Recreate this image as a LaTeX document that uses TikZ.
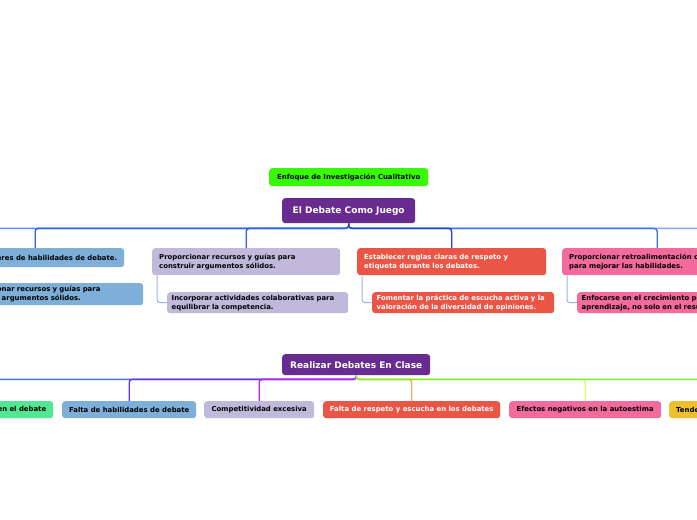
\documentclass[tikz,border=0pt]{standalone}
\usepackage{fontspec}
\setmainfont{DejaVu Sans}
\newcommand\bxf{\fontsize{6.9}{9}\selectfont\bfseries}
\newcommand\ttlf{\fontsize{9}{11}\selectfont\bfseries}
\newcommand\twol[2]{\mbox{#1}\\\mbox{#2}}
\definecolor{lime}{RGB}{55,250,5}
\definecolor{purp}{RGB}{104,44,145}
\definecolor{bluebox}{RGB}{125,175,216}
\definecolor{lav}{RGB}{192,185,220}
\definecolor{redbox}{RGB}{235,85,70}
\definecolor{pinkbox}{RGB}{242,107,156}
\definecolor{greenbox}{RGB}{80,232,145}
\definecolor{yelbox}{RGB}{238,192,46}
\definecolor{bL}{RGB}{95,140,245}
\definecolor{bA}{RGB}{45,95,240}
\definecolor{bC}{RGB}{30,65,215}
\definecolor{bD}{RGB}{60,115,245}
\definecolor{bR}{RGB}{130,165,248}
\definecolor{subblue}{RGB}{150,180,245}
\definecolor{eA}{RGB}{70,115,240}
\definecolor{eB}{RGB}{105,50,225}
\definecolor{eC}{RGB}{180,40,235}
\definecolor{eD}{RGB}{245,170,95}
\definecolor{eE}{RGB}{220,250,100}
\definecolor{eF}{RGB}{125,235,45}
\begin{document}
\begin{tikzpicture}[x=1pt,y=-1pt,
  box/.style={rounded corners=3pt, inner sep=0pt, anchor=north west, font=\bxf, text=black},
  parentbox/.style={box, minimum height=27, align=left},
  childbox/.style={box, minimum height=21, align=left},
  rowbox/.style={box, minimum height=17},
  conn/.style={line width=1.4pt, rounded corners=3pt},
  sub/.style={line width=1pt, rounded corners=3pt, draw=subblue}]
\useasboundingbox (0,0) rectangle (697,520);
\clip (0,0) rectangle (697,520);

% top
\node[box, fill=lime, minimum width=159, minimum height=18] (g) at (269,168) {Enfoque de Investigación Cualitativo};
\node[box, fill=purp, text=white, font=\ttlf, minimum width=133, minimum height=25] (r1) at (282,198) {El Debate Como Juego};

% row 1 boxes
\node[box, fill=bluebox, minimum width=178, minimum height=19] (a) at (-54,248) {\makebox[164pt][r]{Realizar talleres de habilidades de debate.}};
\node[box, fill=bluebox, minimum width=186, minimum height=22, text width=172, align=left] (a2) at (-43,283) {\twol{Proporcionar recursos y guías para}{construir argumentos sólidos.}};
\node[parentbox, fill=lav, minimum width=188, text width=174] (b) at (152,248) {\twol{Proporcionar recursos y guías para}{construir argumentos sólidos.}};
\node[childbox, fill=lav, minimum width=181, text width=172] (b2) at (167,292) {\twol{Incorporar actividades colaborativas para}{equilibrar la competencia.}};
\node[parentbox, fill=redbox, text=white, minimum width=189, text width=175] (c) at (357,248) {\twol{Establecer reglas claras de respeto y}{etiqueta durante los debates.}};
\node[childbox, fill=redbox, text=white, minimum width=182, text width=173] (c2) at (372,292) {\twol{Fomentar la práctica de escucha activa y la}{valoración de la diversidad de opiniones.}};
\node[parentbox, fill=pinkbox, minimum width=190, text width=176] (d) at (562,248) {\twol{Proporcionar retroalimentación constructiva}{para mejorar las habilidades.}};
\node[childbox, fill=pinkbox, minimum width=190, text width=181] (d2) at (577,292) {\twol{Enfocarse en el crecimiento personal y el}{aprendizaje, no solo en el resultado.}};
\coordinate (offL1) at (-110,248);
\coordinate (offR1) at (820,248);

% row 1 connectors
\draw[conn, draw=bL] (r1.south) -- ++(0,5) -| (offL1);
\draw[conn, draw=bA] (r1.south) -- ++(0,5) -| (a.north);
\draw[conn, draw=bA] (r1.south) -- ++(0,5) -| (b.north);
\draw[conn, draw=bR] (r1.south) -- ++(0,5) -| (offR1);
\draw[conn, draw=bD] (r1.south) -- ++(0,5) -| (d.north);
\draw[conn, draw=bC] (r1.south) -- ++(0,5) -| (c.north);
\draw[sub] ([xshift=5pt]a.south west) |- (a2.west);
\draw[sub] ([xshift=5pt]b.south west) |- (b2.west);
\draw[sub] ([xshift=5pt]c.south west) |- (c2.west);
\draw[sub] ([xshift=5pt]d.south west) |- (d2.west);

% second tree
\node[box, fill=purp, text=white, font=\ttlf, minimum width=148, minimum height=21] (r2) at (282,354) {Realizar Debates En Clase};
\node[rowbox, fill=greenbox, minimum width=143] (e1) at (-90,401) {\makebox[129pt][r]{Participación desigual en el debate}};
\node[rowbox, fill=bluebox, minimum width=134] (e2) at (62,401) {Falta de habilidades de debate};
\node[rowbox, fill=lav, minimum width=110] (e3) at (204,401) {Competitividad excesiva};
\node[rowbox, fill=redbox, text=white, minimum width=177] (e4) at (323,401) {Falta de respeto y escucha en los debates};
\node[rowbox, fill=pinkbox, minimum width=152] (e5) at (509,401) {Efectos negativos en la autoestima};
\node[rowbox, fill=yelbox, minimum width=110] (e6) at (669,401) {\makebox[96pt][l]{Tendencia a la confrontación}};

\draw[conn, draw=eA] (r2.south) -- ++(0,4) -| (e1.north);
\draw[conn, draw=eB] (r2.south) -- ++(0,4) -| (e2.north);
\draw[conn, draw=eC] (r2.south) -- ++(0,4) -| (e3.north);
\draw[conn, draw=eD] (r2.south) -- ++(0,4) -| (e4.north);
\draw[conn, draw=eE] (r2.south) -- ++(0,4) -| (e5.north);
\draw[conn, draw=eF] (r2.south) -- ++(0,4) -| (e6.north);
\end{tikzpicture}
\end{document}
